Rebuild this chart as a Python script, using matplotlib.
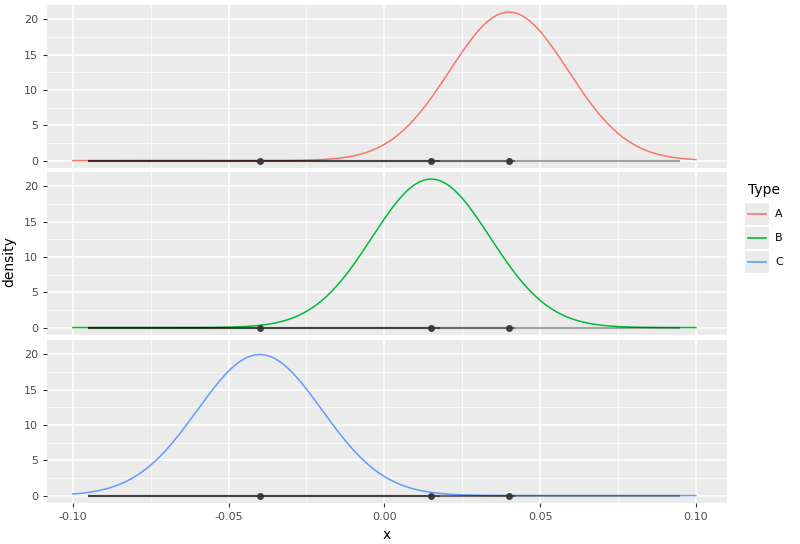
import numpy as np
import matplotlib.pyplot as plt

types = ["A", "B", "C"]
means = [0.04, 0.015, -0.04]
sds = [0.019, 0.019, 0.02]
colors = ["#F8766D", "#00BA38", "#619CFF"]
points = [-0.04, 0.015, 0.04]
int_lo = [-0.095, -0.095, -0.095]
int_hi = [0.018, 0.042, 0.095]

fig = plt.figure(figsize=(8, 5.44), dpi=100)
L, R = 47/800, 727/800
tops = [5, 172, 340]
h = 163
x = np.linspace(-0.1, 0.1, 400)
for i, (t, m, s, c) in enumerate(zip(types, means, sds, colors)):
    ax = fig.add_axes([L, 1 - (tops[i] + h)/544, R - L, h/544])
    ax.set_facecolor("#EBEBEB")
    for sp in ax.spines.values():
        sp.set_visible(False)
    ax.grid(True, which="major", color="white", lw=1.1)
    ax.set_xticks([-0.1, -0.05, 0, 0.05, 0.1])
    ax.set_xticks([-0.075, -0.025, 0.025, 0.075], minor=True)
    ax.set_yticks([0, 5, 10, 15, 20])
    ax.set_yticks([2.5, 7.5, 12.5, 17.5], minor=True)
    ax.grid(True, which="minor", color="white", lw=0.5)
    ax.set_axisbelow(True)
    y = np.exp(-0.5*((x - m)/s)**2)/(s*np.sqrt(2*np.pi))
    ax.plot(x, y, color=c, lw=1.1)
    for lo, hi in zip(int_lo, int_hi):
        ax.plot([lo, hi], [0, 0], color="black", alpha=0.35, lw=1.5, solid_capstyle="butt")
    ax.scatter(points, [0]*3, color="#333333", s=16, zorder=5, alpha=0.9)
    ax.set_xlim(-0.1083, 0.11)
    ax.set_ylim(-1.05, 22)
    ax.tick_params(which="both", colors="#333333", labelcolor="#4D4D4D", labelsize=8, length=3)
    ax.tick_params(which="minor", length=0)
    if i < 2:
        ax.tick_params(axis="x", labelbottom=False, length=0)
    else:
        ax.set_xticklabels(["-0.10", "-0.05", "0.00", "0.05", "0.10"])
        ax.set_xlabel("x", fontsize=10)

fig.text(0.012, 0.5 + 0.02, "density", rotation=90, va="center", ha="center", fontsize=10)

fig.text(748/800, 1 - 190/544, "Type", fontsize=10, va="center")
for j, (t, c) in enumerate(zip(types, colors)):
    yc = 1 - (214 + 24*j)/544
    fig.add_artist(plt.Rectangle((745/800, yc - 11/544), 24/800, 22/544, transform=fig.transFigure, color="#EBEBEB", lw=0))
    fig.add_artist(plt.Line2D([748/800, 766/800], [yc, yc], transform=fig.transFigure, color=c, lw=1.2))
    fig.text(775/800, yc, t, fontsize=8, va="center")

fig.savefig("out.png", dpi=100)
